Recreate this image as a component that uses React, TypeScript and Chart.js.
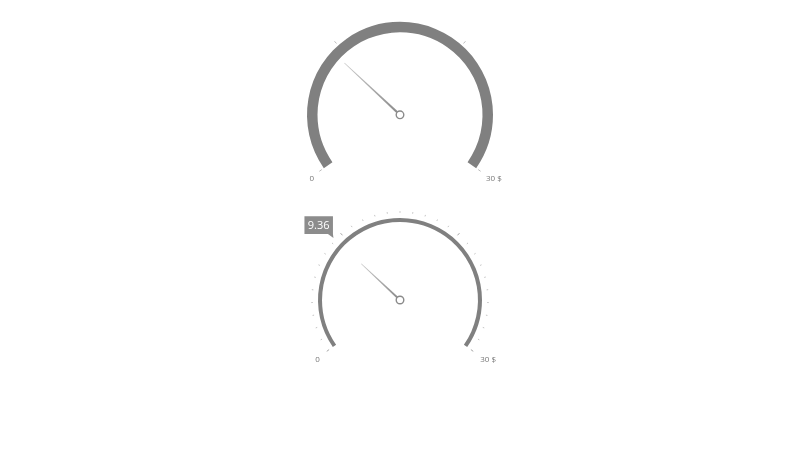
import { useEffect, useRef } from 'react';
import { Chart, registerables } from 'chart.js';

Chart.register(...registerables);

// Scale and value shown by both gauges.
const scaleStart = 0;
const scaleEnd = 30;
const gaugeValue = 9.36;
const valueText = '9.36';
const majorTicks = [0, 10, 20, 30];
const minorTicks = [
  0, 1, 2, 3, 4, 5, 6, 7, 8, 9, 10, 11, 12, 13, 14, 15,
  16, 17, 18, 19, 20, 21, 22, 23, 24, 25, 26, 27, 28, 29, 30,
];
const labelValues = [0, 30];
const labelTexts = ['0', '30 $'];

const GREY = '#808080';
const FONT = '"Open Sans", "DejaVu Sans", sans-serif';
const CANVAS_W = 260;
const CANVAS_H = 200;

type TickSet = { values: number[]; r1: number; r2: number; color: string };
type DecorOpts = {
  tickSets: TickSet[];
  labelRadius: number;
  needleLength: number;
  cloud: boolean;
};

// Draws ticks, labels, needle, pivot and value cloud on top of the range arc.
const gaugeDecor = {
  id: 'gaugeDecor',
  afterDatasetsDraw(chart: Chart, _args: unknown, opts: DecorOpts) {
    const arc = chart.getDatasetMeta(0).data[0] as any;
    if (!arc) return;
    const { x: cx, y: cy, startAngle, endAngle } = arc.getProps(
      ['x', 'y', 'startAngle', 'endAngle'],
      true
    );
    const angleOf = (v: number) =>
      startAngle + ((v - scaleStart) / (scaleEnd - scaleStart)) * (endAngle - startAngle);
    const ctx = chart.ctx;
    ctx.save();

    // ticks
    ctx.lineWidth = 1;
    opts.tickSets.forEach((set) => {
      ctx.strokeStyle = set.color;
      set.values.forEach((v) => {
        const a = angleOf(v);
        ctx.beginPath();
        ctx.moveTo(cx + Math.cos(a) * set.r1, cy + Math.sin(a) * set.r1);
        ctx.lineTo(cx + Math.cos(a) * set.r2, cy + Math.sin(a) * set.r2);
        ctx.stroke();
      });
    });

    // labels
    ctx.font = `8px ${FONT}`;
    ctx.fillStyle = '#777';
    ctx.textBaseline = 'top';
    labelValues.forEach((v, i) => {
      const a = angleOf(v);
      const c = Math.cos(a);
      ctx.textAlign = c < 0 ? 'right' : 'left';
      ctx.fillText(
        labelTexts[i],
        cx + c * opts.labelRadius,
        cy + Math.sin(a) * opts.labelRadius
      );
    });

    // needle
    const na = angleOf(gaugeValue);
    const ux = Math.cos(na);
    const uy = Math.sin(na);
    const px = -uy;
    const py = ux;
    const L = opts.needleLength;
    const grad = ctx.createLinearGradient(cx, cy, cx + ux * L, cy + uy * L);
    grad.addColorStop(0, '#8a8a8a');
    grad.addColorStop(1, '#c8c8c8');
    ctx.fillStyle = grad;
    ctx.beginPath();
    ctx.moveTo(cx + px * 1.1, cy + py * 1.1);
    ctx.lineTo(cx + ux * L + px * 0.3, cy + uy * L + py * 0.3);
    ctx.lineTo(cx + ux * L - px * 0.3, cy + uy * L - py * 0.3);
    ctx.lineTo(cx - px * 1.1, cy - py * 1.1);
    ctx.closePath();
    ctx.fill();

    // pivot
    ctx.beginPath();
    ctx.arc(cx, cy, 3.8, 0, Math.PI * 2);
    ctx.fillStyle = '#fff';
    ctx.fill();
    ctx.lineWidth = 1.4;
    ctx.strokeStyle = '#8a8a8a';
    ctx.stroke();

    // value cloud
    if (opts.cloud) {
      const tx = cx + ux * 91;
      const ty = cy + uy * 91;
      const right = tx - 0.5;
      const bottom = ty - 4;
      const w = 28.5;
      const h = 17.6;
      ctx.beginPath();
      ctx.moveTo(right - w, bottom - h);
      ctx.lineTo(right, bottom - h);
      ctx.lineTo(right, bottom);
      ctx.lineTo(tx, ty);
      ctx.lineTo(right - 5, bottom);
      ctx.lineTo(right - w, bottom);
      ctx.closePath();
      ctx.fillStyle = '#8c8c8c';
      ctx.fill();
      ctx.font = `11px ${FONT}`;
      ctx.fillStyle = '#fff';
      ctx.textAlign = 'center';
      ctx.textBaseline = 'middle';
      ctx.fillText(valueText, right - w / 2, bottom - h / 2 + 0.5);
    }
    ctx.restore();
  },
};

function Gauge({
  top,
  radius,
  cutout,
  padBottom,
  decor,
}: {
  top: number;
  radius: number;
  cutout: string;
  padBottom: number;
  decor: DecorOpts;
}) {
  const canvasRef = useRef<HTMLCanvasElement>(null);

  useEffect(() => {
    if (!canvasRef.current) return;
    const chart = new Chart(canvasRef.current, {
      type: 'doughnut',
      data: {
        labels: ['range'],
        datasets: [
          {
            data: [scaleEnd - scaleStart],
            backgroundColor: GREY,
            borderWidth: 0,
            radius,
            cutout,
          } as any,
        ],
      },
      options: {
        responsive: false,
        animation: false,
        events: [],
        rotation: -125,
        circumference: 250,
        layout: { padding: { bottom: padBottom } },
        plugins: {
          legend: { display: false },
          tooltip: { enabled: false },
          gaugeDecor: decor,
        } as any,
      },
      plugins: [gaugeDecor as any],
    });
    return () => chart.destroy();
  }, [radius, cutout, padBottom, decor]);

  return (
    <canvas
      ref={canvasRef}
      width={CANVAS_W}
      height={CANVAS_H}
      style={{
        position: 'absolute',
        left: 400 - CANVAS_W / 2,
        top,
        width: CANVAS_W,
        height: CANVAS_H,
      }}
    />
  );
}

const topDecor: DecorOpts = {
  tickSets: [{ values: majorTicks, r1: 95.5, r2: 98.5, color: '#bdbdbd' }],
  labelRadius: 105,
  needleLength: 76,
  cloud: false,
};

const bottomDecor: DecorOpts = {
  tickSets: [
    { values: minorTicks, r1: 87.2, r2: 88.8, color: '#c4c4c4' },
    { values: majorTicks, r1: 86.5, r2: 89.5, color: '#b5b5b5' },
  ],
  labelRadius: 98,
  needleLength: 53,
  cloud: true,
};

export default function App() {
  return (
    <div
      style={{
        position: 'fixed',
        left: 0,
        top: 0,
        width: 800,
        height: 450,
        background: '#fff',
      }}
    >
      <Gauge top={0} radius={93} cutout="88.7%" padBottom={10} decor={topDecor} />
      <Gauge top={200} radius={82} cutout="95.1%" padBottom={35} decor={bottomDecor} />
    </div>
  );
}
